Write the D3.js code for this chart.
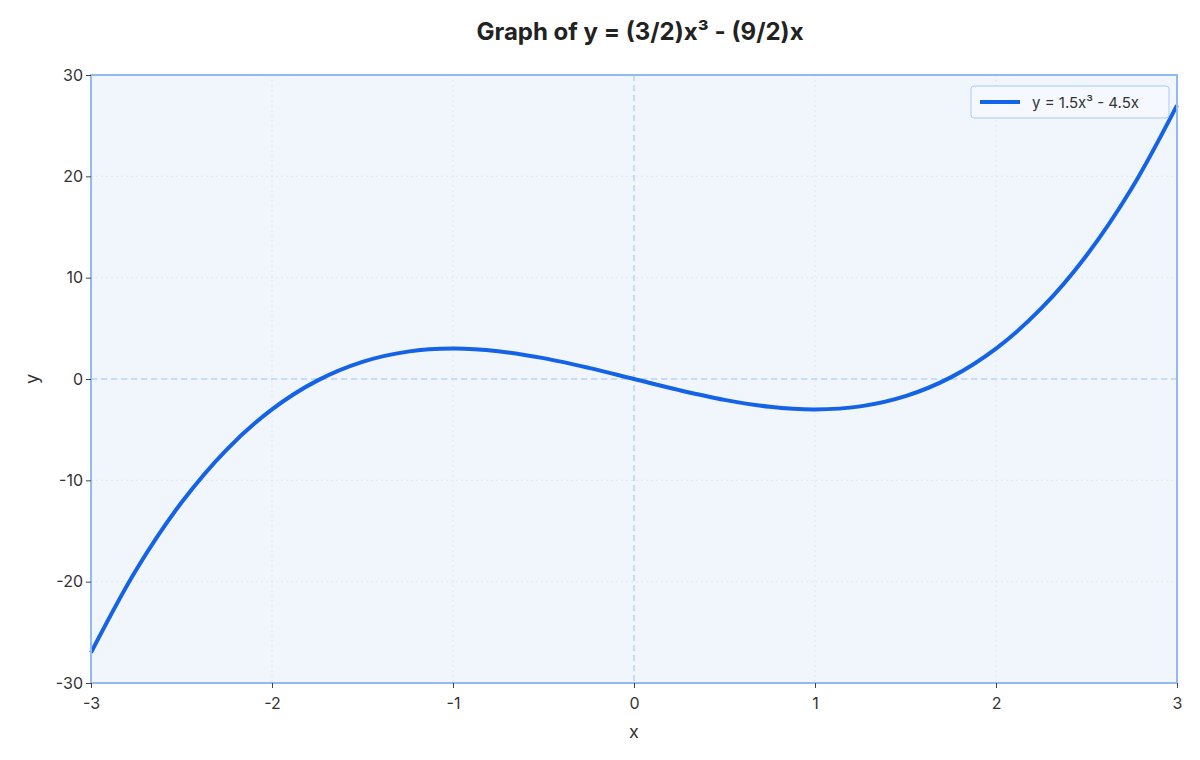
<!DOCTYPE html>
<html><head><meta charset="utf-8">
<script src="https://cdn.jsdelivr.net/npm/d3@7/dist/d3.min.js"></script>
<style>body{margin:0;background:#fff;font-family:Inter,"Noto Sans",sans-serif}</style>
</head><body><svg id="c" width="1200" height="760"></svg>
<script>
const xValues = [-3,-2.75,-2.5,-2.25,-2,-1.75,-1.5,-1.25,-1,-0.75,-0.5,-0.25,0,0.25,0.5,0.75,1,1.25,1.5,1.75,2,2.25,2.5,2.75,3];
const yValues = [-27,-18.82,-12.19,-6.96,-3,-0.16,1.69,2.70,3,2.74,2.06,1.10,0,-1.10,-2.06,-2.74,-3,-2.70,-1.69,0.16,3,6.96,12.19,18.82,27];
const xTicks = [-3,-2,-1,0,1,2,3];
const yTicks = [-30,-20,-10,0,10,20,30];
const seriesName = "y = 1.5x³ - 4.5x";
const titleText = "Graph of y = (3/2)x³ - (9/2)x";

const svg = d3.select("#c");
const L=91,R=1177,T=75,B=683;
const x = d3.scaleLinear().domain([-3,3]).range([L,R]);
const y = d3.scaleLinear().domain([-30,30]).range([B,T]);
svg.append("rect").attr("x",L).attr("y",T).attr("width",R-L).attr("height",B-T).attr("fill","#f1f6fd");
const g = svg.append("g");
xTicks.forEach(t=>g.append("line").attr("x1",x(t)).attr("x2",x(t)).attr("y1",T).attr("y2",B).attr("stroke","#dde7f5").attr("stroke-dasharray","2,3"));
yTicks.forEach(t=>g.append("line").attr("y1",y(t)).attr("y2",y(t)).attr("x1",L).attr("x2",R).attr("stroke","#dde7f5").attr("stroke-dasharray","2,3"));
g.append("line").attr("x1",x(0)).attr("x2",x(0)).attr("y1",T).attr("y2",B).attr("stroke","#bcd4f5").attr("stroke-width",1.5).attr("stroke-dasharray","6,4");
g.append("line").attr("y1",y(0)).attr("y2",y(0)).attr("x1",L).attr("x2",R).attr("stroke","#bcd4f5").attr("stroke-width",1.5).attr("stroke-dasharray","6,4");
const pts = xValues.map((v,i)=>[v,yValues[i]]);
svg.append("path").datum(pts).attr("fill","none").attr("stroke","#1463e6").attr("stroke-width",4)
 .attr("d",d3.line().x(d=>x(d[0])).y(d=>y(d[1])).curve(d3.curveCatmullRom));
svg.append("rect").attr("x",L).attr("y",T).attr("width",R-L).attr("height",B-T).attr("fill","none").attr("stroke","#93b9f2").attr("stroke-width",2);
const fmt = d=>String(d);
const xa = svg.append("g").attr("transform",`translate(0,${B})`).call(d3.axisBottom(x).tickValues(xTicks).tickSize(5).tickFormat(fmt));
const ya = svg.append("g").attr("transform",`translate(${L},0)`).call(d3.axisLeft(y).tickValues(yTicks).tickSize(5).tickFormat(fmt));
[xa,ya].forEach(a=>{a.select(".domain").remove();a.selectAll("line").attr("stroke","#444");a.selectAll("text").attr("font-size",16).attr("fill","#333").attr("font-family","Inter,sans-serif");});
xa.selectAll("text").attr("dy","1.1em");
svg.append("text").attr("x",(L+R)/2).attr("y",738).attr("text-anchor","middle").attr("font-size",18).attr("fill","#333").text("x");
svg.append("text").attr("transform",`translate(38,${(T+B)/2}) rotate(-90)`).attr("text-anchor","middle").attr("font-size",18).attr("fill","#333").text("y");
svg.append("text").attr("x",640).attr("y",40).attr("text-anchor","middle").attr("font-size",24).attr("font-weight","bold").attr("fill","#222").text(titleText);
const lg = svg.append("g");
lg.append("rect").attr("x",971).attr("y",86).attr("width",198).attr("height",32).attr("rx",3).attr("fill","#f5f9ff").attr("stroke","#a9c8f5");
lg.append("line").attr("x1",980).attr("x2",1020).attr("y1",102).attr("y2",102).attr("stroke","#1463e6").attr("stroke-width",4);
lg.append("text").attr("x",1032).attr("y",108).attr("font-size",15).attr("fill","#333").text(seriesName);
</script></body></html>
